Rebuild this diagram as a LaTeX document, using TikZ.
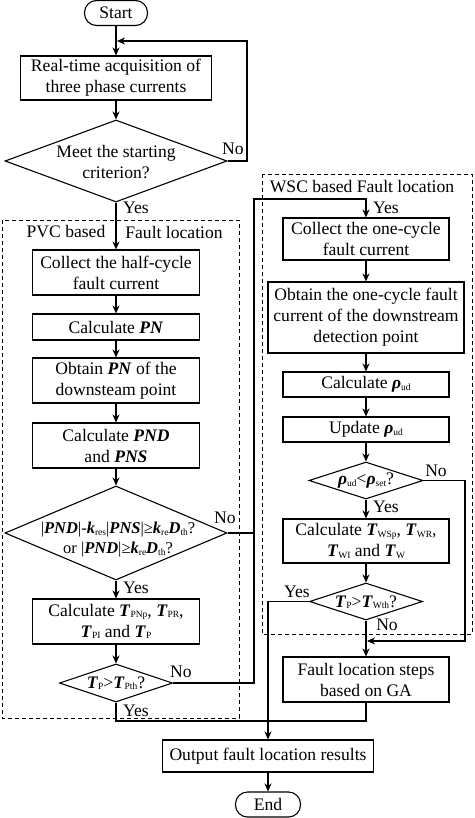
\documentclass[tikz,border=0pt]{standalone}
\usepackage{fontspec}
\setmainfont{Liberation Serif}
\usetikzlibrary{shapes.geometric,arrows.meta}
\newcommand\bi[1]{\textbf{\textit{#1}}}
\newcommand\sbx[1]{\raisebox{-1.5pt}{\fontsize{9.5}{9.5}\selectfont #1}}
\begin{document}
\begin{tikzpicture}[x=1pt,y=-1pt,
 font=\fontsize{17.6}{21}\selectfont,
 box/.style={draw, line width=1.1pt, inner sep=0pt, align=center},
 dia/.style={draw, diamond, line width=1.1pt, inner sep=0pt},
 term/.style={draw, rounded corners=12pt, line width=1.1pt, inner sep=0pt},
 txt/.style={align=center, inner sep=0pt},
 arr/.style={line width=1.1pt, -{Stealth[length=8pt,width=7pt]}},
 ln/.style={line width=1.1pt},
 dbox/.style={draw, line width=0.9pt, dash pattern=on 4pt off 3pt},
 lab/.style={inner sep=0pt}
]
\useasboundingbox (0,0) rectangle (474,818);
% frames
\draw[dbox] (2,220) rectangle (239,718);
\draw[dbox] (262,174) rectangle (472,634);
\node[lab] (pvc1) at (66,232) {PVC based};
\node[lab] (pvc2) at (174,232) {Fault location};
\node[lab] (wsc) at (362,187) {WSC based Fault location};
% main column
\node[term, minimum width=63pt, minimum height=25pt] (start) at (116,13) {Start};
\node[box, minimum width=191pt, minimum height=44pt] (b1) at (116,78) {Real-time acquisition of\\three phase currents};
\node[dia, minimum width=222pt, minimum height=82pt] (d1) at (116,161) {};
\node[txt] (d1t) at (116,162) {Meet the starting\\criterion?};
% left column
\node[box, minimum width=167pt, minimum height=45pt] (c1) at (116,272.5) {Collect the half-cycle\\fault current};
\node[box, minimum width=167pt, minimum height=26pt] (c2) at (116,327) {Calculate \bi{PN}};
\node[box, minimum width=167pt, minimum height=45pt] (c3) at (116,380.5) {Obtain \bi{PN} of the\\downsteam point};
\node[box, minimum width=167pt, minimum height=45pt] (c4) at (116,445.5) {Calculate \bi{PND}\\and \bi{PNS}};
\node[dia, minimum width=222pt, minimum height=94pt] (d2) at (116,533) {};
\node[txt, font=\fontsize{16.5}{20}\selectfont] (d2t) at (118,540) {|\bi{PND}|-\bi{k}\sbx{res}|\bi{PNS}|≥\bi{k}\sbx{re}\bi{D}\sbx{th}?\\or |\bi{PND}|≥\bi{k}\sbx{re}\bi{D}\sbx{th}?};
\node[box, minimum width=167pt, minimum height=45pt] (c5) at (116,621.5) {Calculate \bi{T}\sbx{PNp}, \bi{T}\sbx{PR},\\\bi{T}\sbx{PI} and \bi{T}\sbx{P}};
\node[dia, minimum width=113pt, minimum height=38pt] (d3) at (116,683) {};
\node[txt] (d3t) at (116,683) {\bi{T}\sbx{P}>\bi{T}\sbx{Pth}?};
% right column
\node[box, minimum width=166pt, minimum height=42pt] (r1) at (366,239) {Collect the one-cycle\\fault current};
\node[box, minimum width=196pt, minimum height=71pt] (r2) at (366,317.5) {Obtain the one-cycle fault\\current of the downstream\\detection point};
\node[box, minimum width=166pt, minimum height=25pt] (r3) at (366,384.5) {Calculate \bi{ρ}\sbx{ud}};
\node[box, minimum width=166pt, minimum height=25pt] (r4) at (366,429.5) {Update \bi{ρ}\sbx{ud}};
\node[dia, minimum width=114pt, minimum height=37pt] (rd1) at (366,480.5) {};
\node[txt] (rd1t) at (366,481) {\bi{ρ}\sbx{ud}<\bi{ρ}\sbx{set}?};
\node[box, minimum width=166pt, minimum height=44pt] (r5) at (366,541) {Calculate \bi{T}\sbx{WSp}, \bi{T}\sbx{WR},\\\bi{T}\sbx{WI} and \bi{T}\sbx{W}};
\node[dia, minimum width=113pt, minimum height=37pt] (rd2) at (366,601.5) {};
\node[txt] (rd2t) at (366,602) {\bi{T}\sbx{P}>\bi{T}\sbx{Wth}?};
\node[box, minimum width=166pt, minimum height=45pt] (r6) at (366,679.5) {Fault location steps\\based on GA};
% bottom
\node[box, minimum width=211pt, minimum height=32pt] (out) at (268,756) {Output fault location results};
\node[term, minimum width=65pt, minimum height=25pt] (end) at (268,804.5) {End};
% coordinates
\coordinate (loopA) at (247,161);
\coordinate (loopB) at (247,41);
\coordinate (loopC) at (117,41);
\coordinate (busT) at (254,199);
\coordinate (busB) at (254,683);
\coordinate (busM) at (254,533);
\coordinate (joinL) at (116,721);
\coordinate (joinR) at (366,721);
\coordinate (fbA) at (465,480.5);
\coordinate (fbB) at (465,641);
\coordinate (fbC) at (367,641);
% connectors
\draw[arr] (start) -- (b1);
\draw[arr] (d1.east) -- (loopA) -- (loopB) -- (loopC);
\draw[arr] (b1) -- (d1.north);
\draw[arr] (d1.south) -- (c1.north);
\draw[arr] (c1) -- (c2);
\draw[arr] (c2) -- (c3);
\draw[arr] (c3) -- (c4);
\draw[arr] (c4) -- (d2.north);
\draw[ln] (d2.east) -- (busM);
\draw[arr] (d2.south) -- (c5.north);
\draw[arr] (c5) -- (d3.north);
\draw[arr] (d3.east) -- (busB) -- (busT) -- (busT -| r1.north) -- (r1.north);
\draw[arr] (r1) -- (r2);
\draw[arr] (r2) -- (r3);
\draw[arr] (r3) -- (r4);
\draw[arr] (r4) -- (rd1.north);
\draw[arr] (rd1.south) -- (r5.north);
\draw[arr] (rd1.east) -- (fbA) -- (fbB) -- (fbC);
\draw[arr] (r5) -- (rd2.north);
\draw[arr] (rd2.south) -- (r6.north);
\draw[arr] (rd2.west) -- (rd2.west -| out.north) -- (out.north);
\draw[ln] (d3.south) -- (joinL) -- (joinR) -- (r6.south);
\draw[arr] (out) -- (end);
% labels
\node[lab] (l1) at (233,149) {No};
\node[lab] (l2) at (136,208) {Yes};
\node[lab] (l3) at (386,208) {Yes};
\node[lab] (l4) at (225,518) {No};
\node[lab] (l5) at (136,588) {Yes};
\node[lab] (l6) at (181,672) {No};
\node[lab] (l7) at (136,711) {Yes};
\node[lab] (l8) at (436,471) {No};
\node[lab] (l9) at (386,507) {Yes};
\node[lab] (l10) at (297,592) {Yes};
\node[lab] (l11) at (387,625) {No};
\end{tikzpicture}
\end{document}
